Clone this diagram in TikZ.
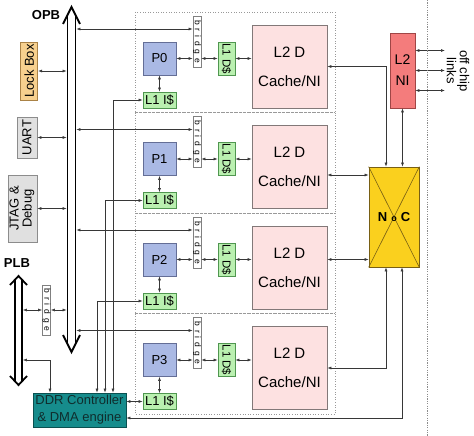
\documentclass[tikz,border=0pt]{standalone}
\usepackage{fontspec}
\setmainfont{Liberation Sans}
\usepackage{graphicx}
\usepackage{tikz}
\usetikzlibrary{arrows.meta}

\definecolor{lockfill}{RGB}{247,208,142}
\definecolor{lockdraw}{RGB}{170,130,70}
\definecolor{devfill}{RGB}{224,224,224}
\definecolor{devdraw}{RGB}{140,140,140}
\definecolor{procfill}{RGB}{170,185,228}
\definecolor{procdraw}{RGB}{100,110,150}
\definecolor{lonefill}{RGB}{186,240,176}
\definecolor{lonedraw}{RGB}{80,150,80}
\definecolor{ltwofill}{RGB}{253,225,225}
\definecolor{ltwodraw}{RGB}{130,120,120}
\definecolor{nifill}{RGB}{244,124,124}
\definecolor{nidraw}{RGB}{160,70,70}
\definecolor{nocfill}{RGB}{250,208,30}
\definecolor{nocdraw}{RGB}{120,95,20}
\definecolor{ddrfill}{RGB}{22,140,140}
\definecolor{ddrdraw}{RGB}{10,80,80}
\definecolor{ddrtext}{RGB}{15,45,45}
\definecolor{wirecol}{RGB}{55,55,55}

\begin{document}
\begin{tikzpicture}[x=1pt, y=-1pt,
    every node/.style={inner sep=0pt, align=center, font=\fontsize{13}{15}\selectfont},
    blk/.style={draw, line width=0.7pt},
    wire/.style={draw=wirecol, line width=0.6pt, {Latex[length=4pt,width=3pt]}-{Latex[length=4pt,width=3pt]}},
    bus/.style={black, line width=1.8pt, line join=miter},
    tile/.style={draw=black!40, dotted, line width=0.6pt},
    bridgebox/.style={blk, fill=white, draw=black!50, minimum width=8pt, minimum height=51pt,
        font=\fontsize{8.5}{9}\selectfont\addfontfeatures{LetterSpace=45}}]
    \useasboundingbox (0,0) rectangle (474,436);

    % OPB and PLB buses
    \draw[bus] (63,24) -- (71.5,7) -- (80,24);
    \draw[bus] (67.5,15) -- (67.5,344);
    \draw[bus] (75.5,15) -- (75.5,344);
    \draw[bus] (63,335) -- (71.5,352) -- (80,335);
    \node[font=\bfseries\fontsize{13}{15}\selectfont] (opb) at (46,15) {OPB};
    \coordinate (opbw) at (66.6,0);
    \coordinate (opbe) at (76.4,0);

    \draw[bus] (10,285) -- (18.5,276) -- (27,285);
    \draw[bus] (15,280) -- (15,381);
    \draw[bus] (22,280) -- (22,381);
    \draw[bus] (10,376) -- (18.5,385) -- (27,376);
    \node[font=\bfseries\fontsize{13}{15}\selectfont] (plb) at (17,263) {PLB};
    \coordinate (plbe) at (22.9,0);
    \coordinate (plbddr) at (22.9,360);

    % devices on the buses
    \node[blk, fill=lockfill, draw=lockdraw, minimum width=17pt, minimum height=58pt] (lockbox) at (29.2,71) {\rotatebox{90}{Lock Box}};
    \node[blk, fill=devfill, draw=devdraw, minimum width=20pt, minimum height=41pt] (uart) at (27,137.5) {\rotatebox{90}{UART}};
    \node[blk, fill=devfill, draw=devdraw, minimum width=29pt, minimum height=67pt] (jtag) at (22.5,208.5)
        {\rotatebox{90}{\fontsize{13}{12.5}\selectfont\begin{tabular}{@{}c@{}}JTAG \&\\Debug\end{tabular}}};
    \node[bridgebox, minimum height=50pt] (plbbridge) at (46.5,310) {\rotatebox{-90}{bridge}};
    \draw[wire] (lockbox.east) -- (lockbox.east -| opbw);
    \draw[wire] (uart.east) -- (uart.east -| opbw);
    \draw[wire] (jtag.east) -- (jtag.east -| opbw);
    \draw[wire] (plbe |- plbbridge.west) -- (plbbridge.west);
    \draw[wire] (plbbridge.east) -- (plbbridge.east -| opbw);

    \node[blk, fill=ddrfill, draw=ddrdraw, minimum width=93pt, minimum height=34pt, text=ddrtext,
        font=\fontsize{13}{17}\selectfont] (ddr) at (79.5,410) {DDR Controller\\\& DMA engine};
    \draw[wire] (plbddr) -| ([xshift=-29.5pt]ddr.north);

    % the four tiles
    \foreach \i in {0,...,3} {
        \pgfmathsetmacro\dy{100.5*\i}
        \draw[tile] (135,12+\dy) rectangle (335,112.5+\dy);
        \node[blk, fill=procfill, draw=procdraw, minimum size=33pt] (p\i) at (159.5,58.5+\dy) {P\i};
        \node[blk, fill=lonefill, draw=lonedraw, minimum width=33pt, minimum height=16pt] (icache\i) at (159.5,100+\dy) {L1 I\$};
        \node[bridgebox] (bridge\i) at (197,41.5+\dy) {\rotatebox{-90}{bridge}};
        \node[blk, fill=lonefill, draw=lonedraw, minimum width=17pt, minimum height=33pt,
            font=\fontsize{11.5}{13}\selectfont] (dcache\i) at (226.5,58.5+\dy) {\rotatebox{-90}{L1 D\$}};
        \node[blk, fill=ltwofill, draw=ltwodraw, minimum width=75pt, minimum height=83pt,
            font=\fontsize{15}{29}\selectfont] (ltwo\i) at (289.5,66.5+\dy) {L2 D\\Cache/NI};
        \coordinate (opb\i) at (76.4,29+\dy);
        \draw[wire] (opb\i) -- (opb\i -| bridge\i.west);
        \draw[wire] (p\i.east) -- (p\i.east -| bridge\i.west);
        \draw[wire] (dcache\i.west -| bridge\i.east) -- (dcache\i.west);
        \draw[wire] (dcache\i.east) -- (dcache\i.east -| ltwo\i.west);
        \draw[wire] (p\i.south) -- (icache\i.north);
    }
    \draw[wire] (icache0.west) -| ([xshift=33.5pt]ddr.north);
    \draw[wire] (icache1.west) -| ([xshift=25.5pt]ddr.north);
    \draw[wire] (icache2.west) -| ([xshift=17.5pt]ddr.north);
    \draw[wire] (icache3.west) -- (icache3.west -| ddr.east);

    % NoC and L2 NI
    \node[blk, fill=nifill, draw=nidraw, minimum width=25pt, minimum height=75pt,
        font=\fontsize{14}{21}\selectfont] (ltwoni) at (402.5,70.5) {L2\\NI};
    \node[blk, fill=nocfill, draw=nocdraw, minimum width=50pt, minimum height=100pt] (noc) at (394,217) {};
    \draw[nocdraw, line width=0.6pt] (noc.north west) -- (noc.south east) (noc.north east) -- (noc.south west);
    \node[font=\bfseries\fontsize{13}{15}\selectfont] (noclabel) at (noc.center) {N\hspace{4pt}{\fontsize{9}{9}\selectfont o}\hspace{4pt}C};
    \draw[wire] (ltwo0.east) -| ([xshift=-8pt]noc.north);
    \draw[wire] (ltwoni.south) -- (ltwoni.south |- noc.north);
    \draw[wire] ([yshift=-8pt]ltwo1.east) -- ([yshift=-8pt]ltwo1.east -| noc.west);
    \draw[wire] ([yshift=8pt]ltwo2.east) -- ([yshift=8pt]ltwo2.east -| noc.west);
    \draw[wire] (ltwo3.east) -| ([xshift=-8pt]noc.south);
    \draw[wire] ([yshift=-8pt]ddr.east) -| ([xshift=8pt]noc.south);

    % off chip links
    \coordinate (offchip) at (445,0);
    \foreach \s in {20,0,-20}
        \draw[wire] ([yshift=\s pt]ltwoni.east) -- ([yshift=\s pt]ltwoni.east -| offchip);
    \node[rotate=-90, font=\fontsize{13}{11}\selectfont] (links) at (458,71) {off chip\\links};
    \draw[black!45, dash pattern=on 1.2pt off 1.2pt, line width=0.9pt] (427,0) -- (427,436);
\end{tikzpicture}
\end{document}
